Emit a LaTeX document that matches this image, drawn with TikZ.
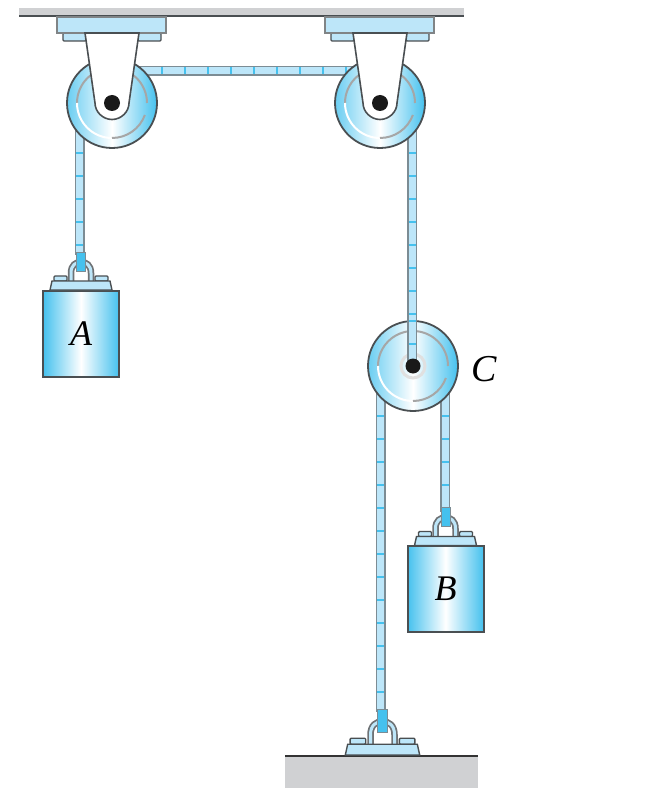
\documentclass[tikz,border=0pt]{standalone}
\usepackage{fontspec}
\setmainfont{Liberation Serif}
\usepackage{xcolor}
\usetikzlibrary{backgrounds}
\definecolor{deepblue}{HTML}{45C1EE}
\definecolor{paleblue}{HTML}{BDE6F9}
\definecolor{steel}{HTML}{4A4F52}
\definecolor{ropeedge}{HTML}{7C8C94}
\definecolor{groundgray}{HTML}{D0D1D3}
\tikzset{
	ropeline/.style={draw=ropeedge, line width=10pt,
		postaction={draw=paleblue, line width=7pt},
		postaction={draw=deepblue, line width=7pt, dash pattern=on 2pt off 21pt}},
	pulleywheel/.style={circle, draw=steel, line width=1.8pt, minimum size=90pt, inner sep=0pt,
		left color=deepblue!80, right color=deepblue, middle color=white},
	pinhole/.style={circle, fill=black!90, inner sep=0pt, minimum size=15pt},
	hardware/.style={draw=steel, line width=1.4pt, fill=paleblue, rounded corners=1pt},
	weightbox/.style={rectangle, draw=steel, line width=2pt, minimum width=76pt, minimum height=86pt,
		left color=deepblue, right color=deepblue, middle color=white, inner sep=0pt,
		font=\fontsize{36}{36}\selectfont\itshape},
	ringgray/.style={draw=black!35, line width=2pt},
	ringwhite/.style={draw=white, line width=2pt}
}
\begin{document}
\begin{tikzpicture}[x=1pt, y=-1pt]
		\useasboundingbox (0,0) rectangle (651,810);
		% ceiling and floor
		\fill[groundgray] (19,8) rectangle (464,16);
		\draw[steel, line width=2pt] (19,16.5) -- (464,16.5);
		\fill[groundgray] (285,756) rectangle (478,788);
		\draw[black!80, line width=2pt] (285,755.5) -- (478,755.5);
		% wheels
		\foreach \pname/\px/\py in {pulleyL/112/103, pulleyR/380/103, pulleyC/413/366} {
			\node[pulleywheel] (\pname) at (\px,\py) {};
			\draw[ringgray] (\pname.center) ++(-35,0) arc[start angle=180, end angle=360, radius=35];
			\draw[ringwhite] (\pname.center) ++(-35,0) arc[start angle=180, end angle=90, radius=35];
			\draw[ringgray] (\pname.center) ++(0,35) arc[start angle=90, end angle=20, radius=35];
		}
		% weights
		\node[weightbox] (weightA) at (81,333.5) {A};
		\node[weightbox] (weightB) at (445.5,588.5) {B};
		\node[font=\fontsize{38}{38}\selectfont\itshape] (labelC) at (484,369) {C};
		\coordinate (eyeA) at (81,255);
		\coordinate (eyeB) at (445.5,512);
		\coordinate (eyeF) at (382.5,712);
		% ropes go behind the wheels
		\begin{scope}[on background layer]
			\draw[ropeline, shorten <=-6pt, shorten >=-6pt] (pulleyL.45) -- (pulleyR.135);
			\draw[ropeline, shorten <=-6pt] (pulleyL.225) -- (pulleyL.225 |- eyeA);
			\draw[ropeline, shorten <=-6pt] (pulleyR.-45) -- (pulleyR.-45 |- pulleyC.north);
			\draw[ropeline, shorten <=-6pt] (pulleyC.-135) -- (pulleyC.-135 |- eyeF);
			\draw[ropeline, shorten <=-6pt] (pulleyC.-45) -- (pulleyC.-45 |- eyeB);
		\end{scope}
		\node[circle, draw=black!12, line width=3pt, inner sep=0pt, minimum size=24pt] (hubC) at (pulleyC) {};
		\draw[ropeline] (pulleyR.-45 |- pulleyC.north) -- (pulleyR.-45 |- pulleyC.center);
		\node[pinhole] (pinC) at (pulleyC) {};
		% brackets on the ceiling
		\foreach \px in {112,380} {
			\begin{scope}[shift={(\px,0)}]
				\draw[hardware] (-49,33) rectangle (-26,41);
				\draw[hardware] (26,33) rectangle (49,41);
				\draw[hardware, rounded corners=0pt, draw=steel!70] (-55,17) rectangle (54,33);
				\draw[steel, line width=1.6pt, fill=white] (-27,33) -- (-17,103) .. controls (-17,112) and (-9,119.5) .. (0,119.5) .. controls (9,119.5) and (17,112) .. (17,103) -- (27,33) -- cycle;
				\fill[black!90] (0,103) circle (8);
			\end{scope}
		}
		% shackles
		\foreach \bx/\by/\bs in {81/290/1, 445.5/545.5/1, 382.5/755/1.2} {
			\begin{scope}[shift={(\bx,\by)}, scale=\bs]
				\draw[hardware] (-27,-9) rectangle (-14,-14);
				\draw[hardware] (14,-9) rectangle (27,-14);
				\draw[steel!80, line width=6.5pt] (-10,-8) -- (-10,-17) .. controls (-10,-25) and (-5,-28) .. (0,-28) .. controls (5,-28) and (10,-25) .. (10,-17) -- (10,-8);
				\draw[paleblue, line width=3pt] (-10,-8) -- (-10,-17) .. controls (-10,-25) and (-5,-28) .. (0,-28) .. controls (5,-28) and (10,-25) .. (10,-17) -- (10,-8);
				\draw[hardware, rounded corners=0pt] (-31,0) -- (-29,-9) -- (29,-9) -- (31,0) -- cycle;
				\draw[draw=ropeedge, line width=1pt, fill=deepblue] (-4.5,-38) rectangle (4.5,-19);
			\end{scope}
		}
\end{tikzpicture}
\end{document}
